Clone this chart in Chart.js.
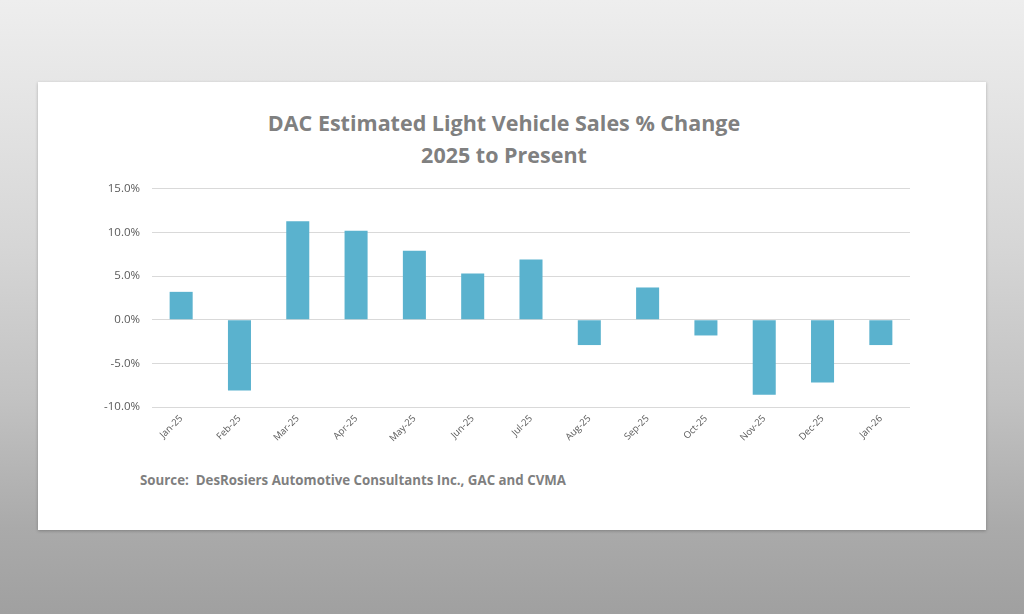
<!DOCTYPE html>
<html>
<head>
<meta charset="utf-8">
<script src="https://cdn.jsdelivr.net/npm/chart.js@4.4.0/dist/chart.umd.min.js"></script>
<style>
  html, body { margin: 0; padding: 0; }
  body {
    width: 1024px; height: 614px; overflow: hidden; position: relative;
    background: linear-gradient(180deg, #eeeeee 0%, #e6e6e6 14%, #d6d6d6 40%, #c2c2c2 65%, #aaaaaa 86%, #a0a0a0 100%);
    font-family: 'Open Sans', 'Noto Sans', sans-serif;
  }
  #card {
    position: absolute; left: 38px; top: 82px; width: 948px; height: 448px;
    background: #ffffff; box-shadow: 0 1px 3px rgba(0,0,0,0.25);
  }
  #title {
    position: absolute; left: 38px; top: 107px; width: 932px; text-align: center;
    color: #808080; font-weight: bold; font-size: 21.5px; line-height: 32px;
  }
  #source {
    position: absolute; left: 140px; top: 471px; color: #7f7f7f;
    font-weight: bold; font-size: 13.3px; white-space: nowrap;
  }
  #wrap { position: absolute; left: 38px; top: 170px; width: 948px; height: 290px; }
</style>
</head>
<body>
<div id="card"></div>
<div id="title">DAC Estimated Light Vehicle Sales % Change<br>2025 to Present</div>
<div id="wrap"><canvas id="c"></canvas></div>
<div id="source">Source:&nbsp; DesRosiers Automotive Consultants Inc., GAC and CVMA</div>
<script>
const categories = ['Jan-25','Feb-25','Mar-25','Apr-25','May-25','Jun-25','Jul-25','Aug-25','Sep-25','Oct-25','Nov-25','Dec-25','Jan-26'];
const salesChange = [3.2, -8.1, 11.3, 10.2, 7.9, 5.3, 6.9, -2.9, 3.7, -1.8, -8.6, -7.2, -2.9];
const yTicks = [-10, -5, 0, 5, 10, 15];

new Chart(document.getElementById('c'), {
  type: 'bar',
  data: {
    labels: categories,
    datasets: [{
      data: salesChange,
      backgroundColor: '#5ab2ce',
      borderWidth: 0,
      categoryPercentage: 1.0,
      barPercentage: 0.395
    }]
  },
  options: {
    responsive: true,
    maintainAspectRatio: false,
    animation: false,
    layout: { padding: { top: 16, right: 76, left: 0, bottom: 0 } },
    plugins: { legend: { display: false }, title: { display: false }, tooltip: { enabled: false } },
    scales: {
      x: {
        grid: { display: false, drawTicks: false },
        border: { display: false },
        ticks: {
          color: '#595959', font: { family: "'Open Sans', sans-serif", size: 9.5 },
          minRotation: 45, maxRotation: 45, padding: 6, autoSkip: false
        },
        afterFit: s => { s.height = 53; }
      },
      y: {
        min: -10, max: 15,
        afterBuildTicks: s => { s.ticks = yTicks.map(v => ({ value: v })); },
        grid: { color: '#d9d9d9', lineWidth: 1, drawTicks: false },
        border: { display: false },
        ticks: {
          color: '#595959', font: { family: "'Open Sans', sans-serif", size: 11.5 },
          padding: 12,
          callback: v => v.toFixed(1) + '%'
        },
        afterFit: s => { s.width = 114; }
      }
    }
  }
});
</script>
</body>
</html>
